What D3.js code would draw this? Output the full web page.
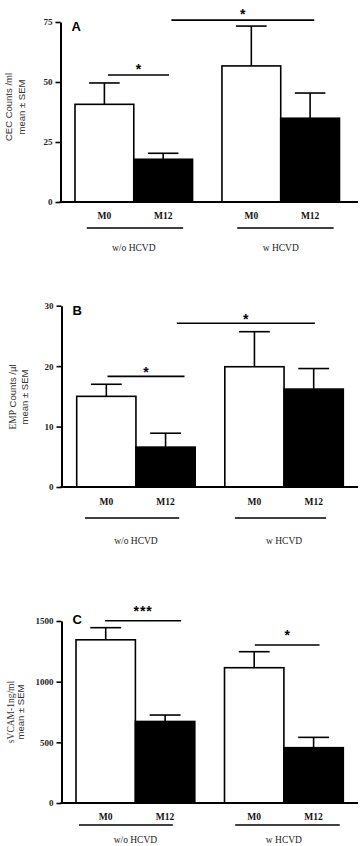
<!DOCTYPE html>
<html>
<head>
<meta charset="utf-8">
<script src="https://cdn.jsdelivr.net/npm/d3@7"></script>
<style>
  body { margin: 0; background: #fff; }
  svg { display: block; }
</style>
</head>
<body>
<script>
// groups and timepoints shared by the three panels
var groups = ["w/o HCVD", "w HCVD"];
var timepoints = ["M0", "M12"];

// A: CEC counts / ml (order: w/o M0, w/o M12, w M0, w M12)
var cecMean = [40.7, 17.8, 56.7, 34.9];
var cecSem = [8.9, 2.5, 16.6, 10.5];
var cecTicks = [0, 25, 50, 75];
// significance bars, x in bar-width units, y in data units
var cecSig = [
  {x0: 0.56, x1: 1.60, y: 52.9, label: "*"},
  {x0: 1.64, x1: 4.07, y: 75.8, label: "*"}
];
var cecGroupLines = [[0.20, 1.84], [2.76, 4.40]];

// B: EMP counts / µl
var empMean = [15.0, 6.6, 19.9, 16.2];
var empSem = [2.0, 2.3, 5.8, 3.4];
var empTicks = [0, 10, 20, 30];
var empSig = [
  {x0: 0.52, x1: 1.82, y: 18.3, label: "*"},
  {x0: 1.69, x1: 4.02, y: 27.1, label: "*"}
];
var empGroupLines = [[0.14, 1.73], [2.67, 4.21]];

// C: sVCAM-1 ng/ml
var vcamMean = [1345, 672, 1115, 456];
var vcamSem = [100, 53, 132, 85];
var vcamTicks = [0, 500, 1000, 1500];
var vcamSig = [
  {x0: 0.49, x1: 1.77, y: 1502, label: "***"},
  {x0: 3.01, x1: 4.10, y: 1302, label: "*"}
];
var vcamGroupLines = [[0.05, 1.63], [2.68, 4.44]];

var width = 360, height = 846;
var serif = "'Liberation Serif', 'DejaVu Serif', serif";
var sans = "'Liberation Sans', Arial, sans-serif";

var svg = d3.select("body").append("svg")
  .attr("width", width)
  .attr("height", height);

var panels = [
  {
    letter: "A", mean: cecMean, sem: cecSem, ticks: cecTicks, sig: cecSig, groupLines: cecGroupLines,
    axisX: 60.5, xRange: [75, 339.5], y0: 202, yTop: 22, letterY: 31,
    sigGap: 7, catDy: 17, lineDy: 26, groupDy: 48.5,
    label: [{text: [["CEC  Counts /ml", sans]], x: 11.5}, {text: [["mean \u00b1 SEM", sans]], x: 25}], labelY: 107
  },
  {
    letter: "B", mean: empMean, sem: empSem, ticks: empTicks, sig: empSig, groupLines: empGroupLines,
    axisX: 61.5, xRange: [76.7, 343.3], y0: 487, yTop: 305.7, letterY: 315,
    sigGap: 5, catDy: 17.5, lineDy: 31, groupDy: 56.5,
    label: [{text: [["EMP", serif], [" Counts /\u00b5l", sans]], x: 15.5}, {text: [["mean \u00b1 SEM", sans]], x: 28}], labelY: 397
  },
  {
    letter: "C", mean: vcamMean, sem: vcamSem, ticks: vcamTicks, sig: vcamSig, groupLines: vcamGroupLines,
    axisX: 61.5, xRange: [76, 343.3], y0: 803, yTop: 621, letterY: 624,
    sigGap: 11, catDy: 16.5, lineDy: 22, groupDy: 40,
    label: [{text: [["sVCAM-1ng/ml", serif]], x: 13.5}, {text: [["mean \u00b1 SEM", sans]], x: 24}], labelY: 712
  }
];

panels.forEach(function(p) {
  var g = svg.append("g");
  var yMax = p.ticks[p.ticks.length - 1];

  var yScale = d3.scaleLinear()
    .domain([0, yMax])
    .range([p.y0, p.yTop]);

  // bar-width units: two bars per group, half a bar gap between groups
  var xScale = d3.scaleLinear()
    .domain([0, 4.5])
    .range(p.xRange);

  var bars = [];
  groups.forEach(function(grp, gi) {
    timepoints.forEach(function(tp, ti) {
      var i = gi * 2 + ti;
      bars.push({group: grp, time: tp, slot: gi * 2.5 + ti, mean: p.mean[i], sem: p.sem[i]});
    });
  });
  var bw = xScale(1) - xScale(0);

  // error bars (upper only)
  g.append("g").selectAll("g")
    .data(bars)
    .enter().append("g")
    .each(function(d) {
      var cx = xScale(d.slot + 0.5);
      var sel = d3.select(this);
      sel.append("line")
        .attr("x1", cx).attr("x2", cx)
        .attr("y1", yScale(d.mean)).attr("y2", yScale(d.mean + d.sem))
        .attr("stroke", "#000").attr("stroke-width", 1.6);
      sel.append("line")
        .attr("x1", cx - bw * 0.26).attr("x2", cx + bw * 0.26)
        .attr("y1", yScale(d.mean + d.sem)).attr("y2", yScale(d.mean + d.sem))
        .attr("stroke", "#000").attr("stroke-width", 1.6);
    });

  // bars
  g.append("g").selectAll("rect")
    .data(bars)
    .enter().append("rect")
    .attr("x", d => xScale(d.slot))
    .attr("y", d => yScale(d.mean))
    .attr("width", bw)
    .attr("height", d => yScale(0) - yScale(d.mean))
    .attr("fill", d => d.time === "M0" ? "#fff" : "#000")
    .attr("stroke", "#000")
    .attr("stroke-width", 1.6);

  // y axis
  var yAxis = d3.axisLeft(yScale)
    .tickValues(p.ticks)
    .tickFormat(d3.format("d"))
    .tickSizeInner(5)
    .tickSizeOuter(0)
    .tickPadding(3);
  var ax = g.append("g")
    .attr("transform", "translate(" + p.axisX + ",0)")
    .call(yAxis);
  ax.select(".domain").attr("stroke-width", 2);
  ax.selectAll(".tick line").attr("stroke-width", 1.6);
  ax.selectAll(".tick text")
    .attr("font-family", serif)
    .attr("font-weight", "bold")
    .attr("font-size", 9)
    .attr("fill", "#222");

  // x baseline
  g.append("line")
    .attr("x1", p.axisX - 1).attr("x2", 358)
    .attr("y1", yScale(0)).attr("y2", yScale(0))
    .attr("stroke", "#000").attr("stroke-width", 2);

  // panel letter
  g.append("text")
    .attr("x", p.axisX + 11)
    .attr("y", p.letterY)
    .attr("font-family", sans)
    .attr("font-weight", "bold")
    .attr("font-size", 13)
    .text(p.letter);

  // timepoint labels
  g.append("g").selectAll("text")
    .data(bars)
    .enter().append("text")
    .attr("x", d => xScale(d.slot + 0.5))
    .attr("y", yScale(0) + p.catDy)
    .attr("text-anchor", "middle")
    .attr("font-family", serif)
    .attr("font-weight", "bold")
    .attr("font-size", 9.5)
    .attr("fill", "#111")
    .text(d => d.time);

  // group underline + label
  g.append("g").selectAll("line")
    .data(p.groupLines)
    .enter().append("line")
    .attr("x1", d => xScale(d[0]))
    .attr("x2", d => xScale(d[1]))
    .attr("y1", yScale(0) + p.lineDy)
    .attr("y2", yScale(0) + p.lineDy)
    .attr("stroke", "#000").attr("stroke-width", 1.6);

  g.append("g").selectAll("text")
    .data(groups)
    .enter().append("text")
    .attr("x", (d, i) => xScale(i * 2.5 + 1))
    .attr("y", yScale(0) + p.groupDy)
    .attr("text-anchor", "middle")
    .attr("font-family", serif)
    .attr("font-size", 9.5)
    .attr("fill", "#222")
    .text(d => d);

  // significance bars
  var sig = g.append("g").selectAll("g")
    .data(p.sig)
    .enter().append("g");
  sig.append("line")
    .attr("x1", d => xScale(d.x0))
    .attr("x2", d => xScale(d.x1))
    .attr("y1", d => yScale(d.y))
    .attr("y2", d => yScale(d.y))
    .attr("stroke", "#000").attr("stroke-width", 1.6);
  sig.append("text")
    .attr("x", d => (xScale(d.x0) + xScale(d.x1)) / 2)
    .attr("y", d => yScale(d.y) - p.sigGap + 10)
    .attr("text-anchor", "middle")
    .attr("font-family", sans)
    .attr("font-weight", "bold")
    .attr("font-size", 14)
    .attr("dy", "-0.3em")
    .attr("letter-spacing", d => d.label.length > 1 ? 1 : 0)
    .text(d => d.label);

  // rotated y label (two lines)
  p.label.forEach(function(line) {
    var t = g.append("text")
      .attr("transform", "translate(" + line.x + "," + p.labelY + ") rotate(-90)")
      .attr("text-anchor", "middle")
      .attr("font-size", 9.5)
      .attr("fill", "#333");
    line.text.forEach(function(part) {
      t.append("tspan")
        .attr("font-family", part[1])
        .text(part[0]);
    });
  });
});
</script>
</body>
</html>
